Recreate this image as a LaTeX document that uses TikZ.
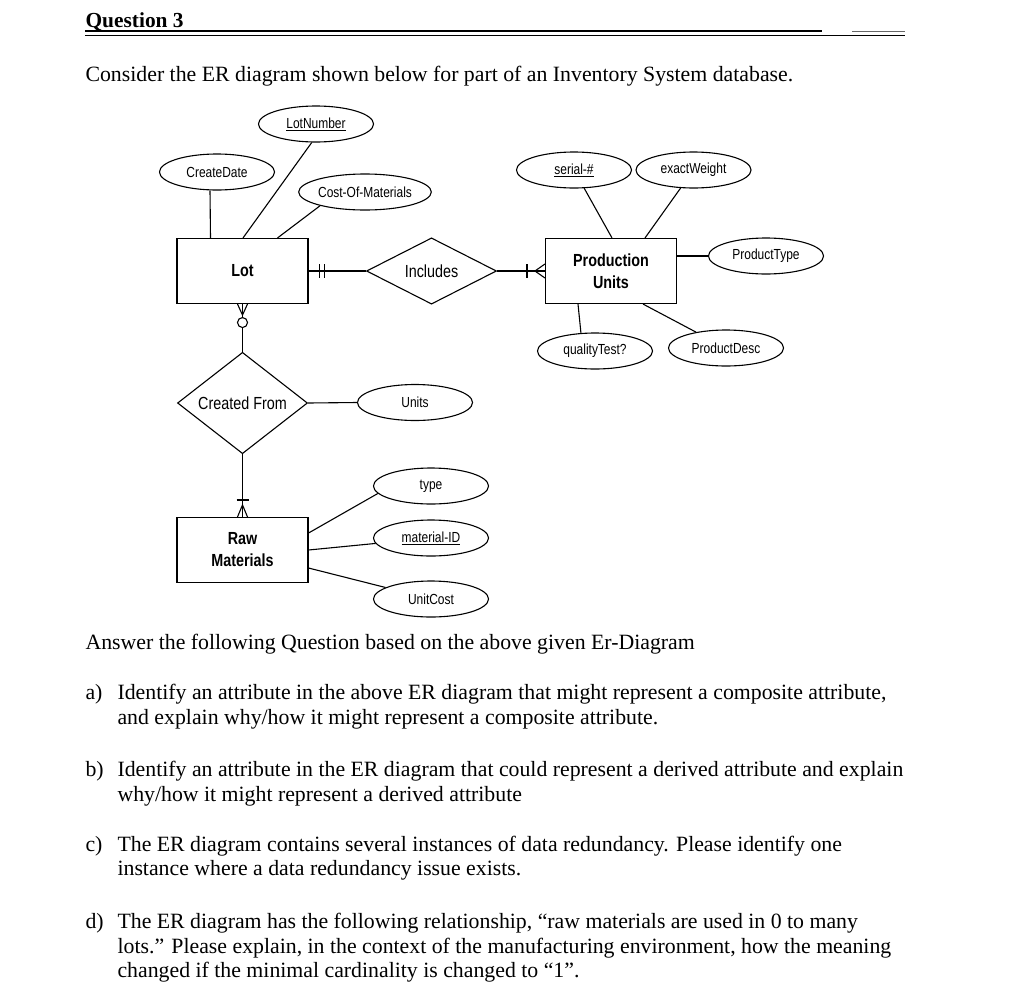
\documentclass[tikz,border=0pt]{standalone}
\usepackage{fontspec}
\setmainfont{Liberation Serif}
\newfontfamily\narrow[FakeStretch=0.82]{Liberation Sans}
\usetikzlibrary{shapes.geometric,calc}
\begin{document}
\begin{tikzpicture}[x=1pt,y=-1pt,line width=1.1pt,
  attr/.style={ellipse,draw,minimum width=115pt,minimum height=36pt,inner sep=0pt,
    font=\narrow\fontsize{14.6}{16}\selectfont},
  ent/.style={rectangle,draw,minimum width=131pt,minimum height=65pt,inner sep=0pt,align=center,
    font=\narrow\bfseries\fontsize{17.5}{22}\selectfont},
  rel/.style={diamond,draw,minimum width=130pt,minimum height=64pt,inner sep=0pt,
    font=\narrow\fontsize{17.5}{20}\selectfont},
  txt/.style={anchor=base west,inner sep=0pt,font=\fontsize{21.8}{24}\selectfont},
  conn/.style={line width=1.1pt},
  cardmark/.style={line width=1.1pt}
]
\useasboundingbox (0,0) rectangle (1024,1004);

% header
\node[txt,font=\bfseries\fontsize{21.4}{24}\selectfont] (title) at (85,27) {Question 3};
\draw[line width=1.8pt] (85,31) -- (822,31);
\draw[line width=1.2pt,black!60] (852,31.5) -- (905,31.5);
\draw[line width=0.9pt] (85,35) -- (905,35);
\node[txt] (intro) at (85,81) {Consider the ER diagram shown below for part of an Inventory System database.};

% entities, relationships, attributes
\node[attr] (LotNumber) at (316,124) {\underline{LotNumber}};
\node[attr] (CreateDate) at (217,172) {CreateDate};
\node[attr] (Cost) at (365,192) {Cost-Of-Materials};
\node[ent] (Lot) at (242.5,271) {Lot};
\node[rel] (Includes) at (431.5,271) {Includes};
\node[ent] (PU) at (611,271) {Production\\Units};
\node[attr] (Serial) at (574,170) {\underline{serial-\#}};
\node[attr] (Weight) at (693.5,170) {exactWeight};
\node[attr] (PType) at (766,256) {ProductType};
\node[attr] (QTest) at (595,351) {qualityTest?};
\node[attr] (PDesc) at (726,348) {ProductDesc};
\node[rel] (Created) at (242.5,403) {Created From};
\node[attr] (Units) at (415,402.5) {Units};
\node[ent] (RM) at (242.5,550) {Raw\\Materials};
\node[attr] (Type) at (431,486) {type};
\node[attr] (MatID) at (431,538) {\underline{material-ID}};
\node[attr] (UnitCost) at (431,599) {UnitCost};

% attribute links
\draw[conn] ([xshift=-32pt]Lot.north) -- ([xshift=-7pt]CreateDate.south);
\draw[conn] ([xshift=0.5pt]Lot.north) -- (LotNumber.257);
\draw[conn] ([xshift=35pt]Lot.north) -- (Cost.197);
\draw[conn] ([xshift=1pt]PU.north) -- (Serial);
\draw[conn] ([xshift=34pt]PU.north) -- (Weight);
\draw[conn] ([yshift=15pt]PU.east) -- (PType.west);
\draw[conn] ([xshift=-33pt]PU.south) -- (QTest.128);
\draw[conn] ([xshift=32pt]PU.south) -- (PDesc);
\draw[conn] (Created.east) -- (Units.west);
\draw[conn] ([yshift=17pt]RM.east) -- (Type.188);
\draw[conn] (RM.east) -- (MatID);
\draw[conn] ([yshift=-18pt]RM.east) -- (UnitCost);

% Lot -- Includes (one and only one)
\draw[conn] (Lot.east) -- (Includes.west);
\draw[cardmark] ([xshift=11pt,yshift=7pt]Lot.east) -- ([xshift=11pt,yshift=-7pt]Lot.east);
\draw[cardmark] ([xshift=15.5pt,yshift=7pt]Lot.east) -- ([xshift=15.5pt,yshift=-7pt]Lot.east);

% Includes -- Production Units (one or many)
\draw[conn] (Includes.east) -- (PU.west);
\draw[cardmark] ([xshift=-18pt,yshift=7pt]PU.west) -- ([xshift=-18pt,yshift=-7pt]PU.west);
\draw[cardmark] ([yshift=7pt]PU.west) -- ([xshift=-10pt]PU.west) -- ([yshift=-7pt]PU.west);

% Lot -- Created From (zero or many)
\draw[conn] (Lot.south) -- (Created.north);
\draw[cardmark] ([xshift=-5pt]Lot.south) -- ([yshift=-11pt]Lot.south) -- ([xshift=5pt]Lot.south);
\draw[cardmark,fill=white] ([yshift=-18.5pt]Lot.south) circle (5pt);

% Created From -- Raw Materials (one or many)
\draw[conn] (Created.south) -- (RM.north);
\draw[cardmark] ([xshift=-6pt,yshift=17pt]RM.north) -- ([xshift=6pt,yshift=17pt]RM.north);
\draw[cardmark] ([xshift=-5pt]RM.north) -- ([yshift=12pt]RM.north) -- ([xshift=5pt]RM.north);

% questions
\node[txt] (answer) at (85,649) {Answer the following Question based on the above given Er-Diagram};
\node[txt] (la) at (85,699) {a)};
\node[txt] (a1) at (117,699) {Identify an attribute in the above ER diagram that might represent a composite attribute,};
\node[txt] (a2) at (117,724) {and explain why/how it might represent a composite attribute.};
\node[txt] (lb) at (85,776) {b)};
\node[txt] (b1) at (117,776) {Identify an attribute in the ER diagram that could represent a derived attribute and explain};
\node[txt] (b2) at (117,801) {why/how it might represent a derived attribute};
\node[txt] (lc) at (85,851) {c)};
\node[txt] (c1) at (117,851) {The ER diagram contains several instances of data redundancy. Please identify one};
\node[txt] (c2) at (117,875) {instance where a data redundancy issue exists.};
\node[txt] (ld) at (85,928) {d)};
\node[txt] (d1) at (117,928) {The ER diagram has the following relationship, “raw materials are used in 0 to many};
\node[txt] (d2) at (117,953) {lots.” Please explain, in the context of the manufacturing environment, how the meaning};
\node[txt] (d3) at (117,977) {changed if the minimal cardinality is changed to “1”.};
\end{tikzpicture}
\end{document}
